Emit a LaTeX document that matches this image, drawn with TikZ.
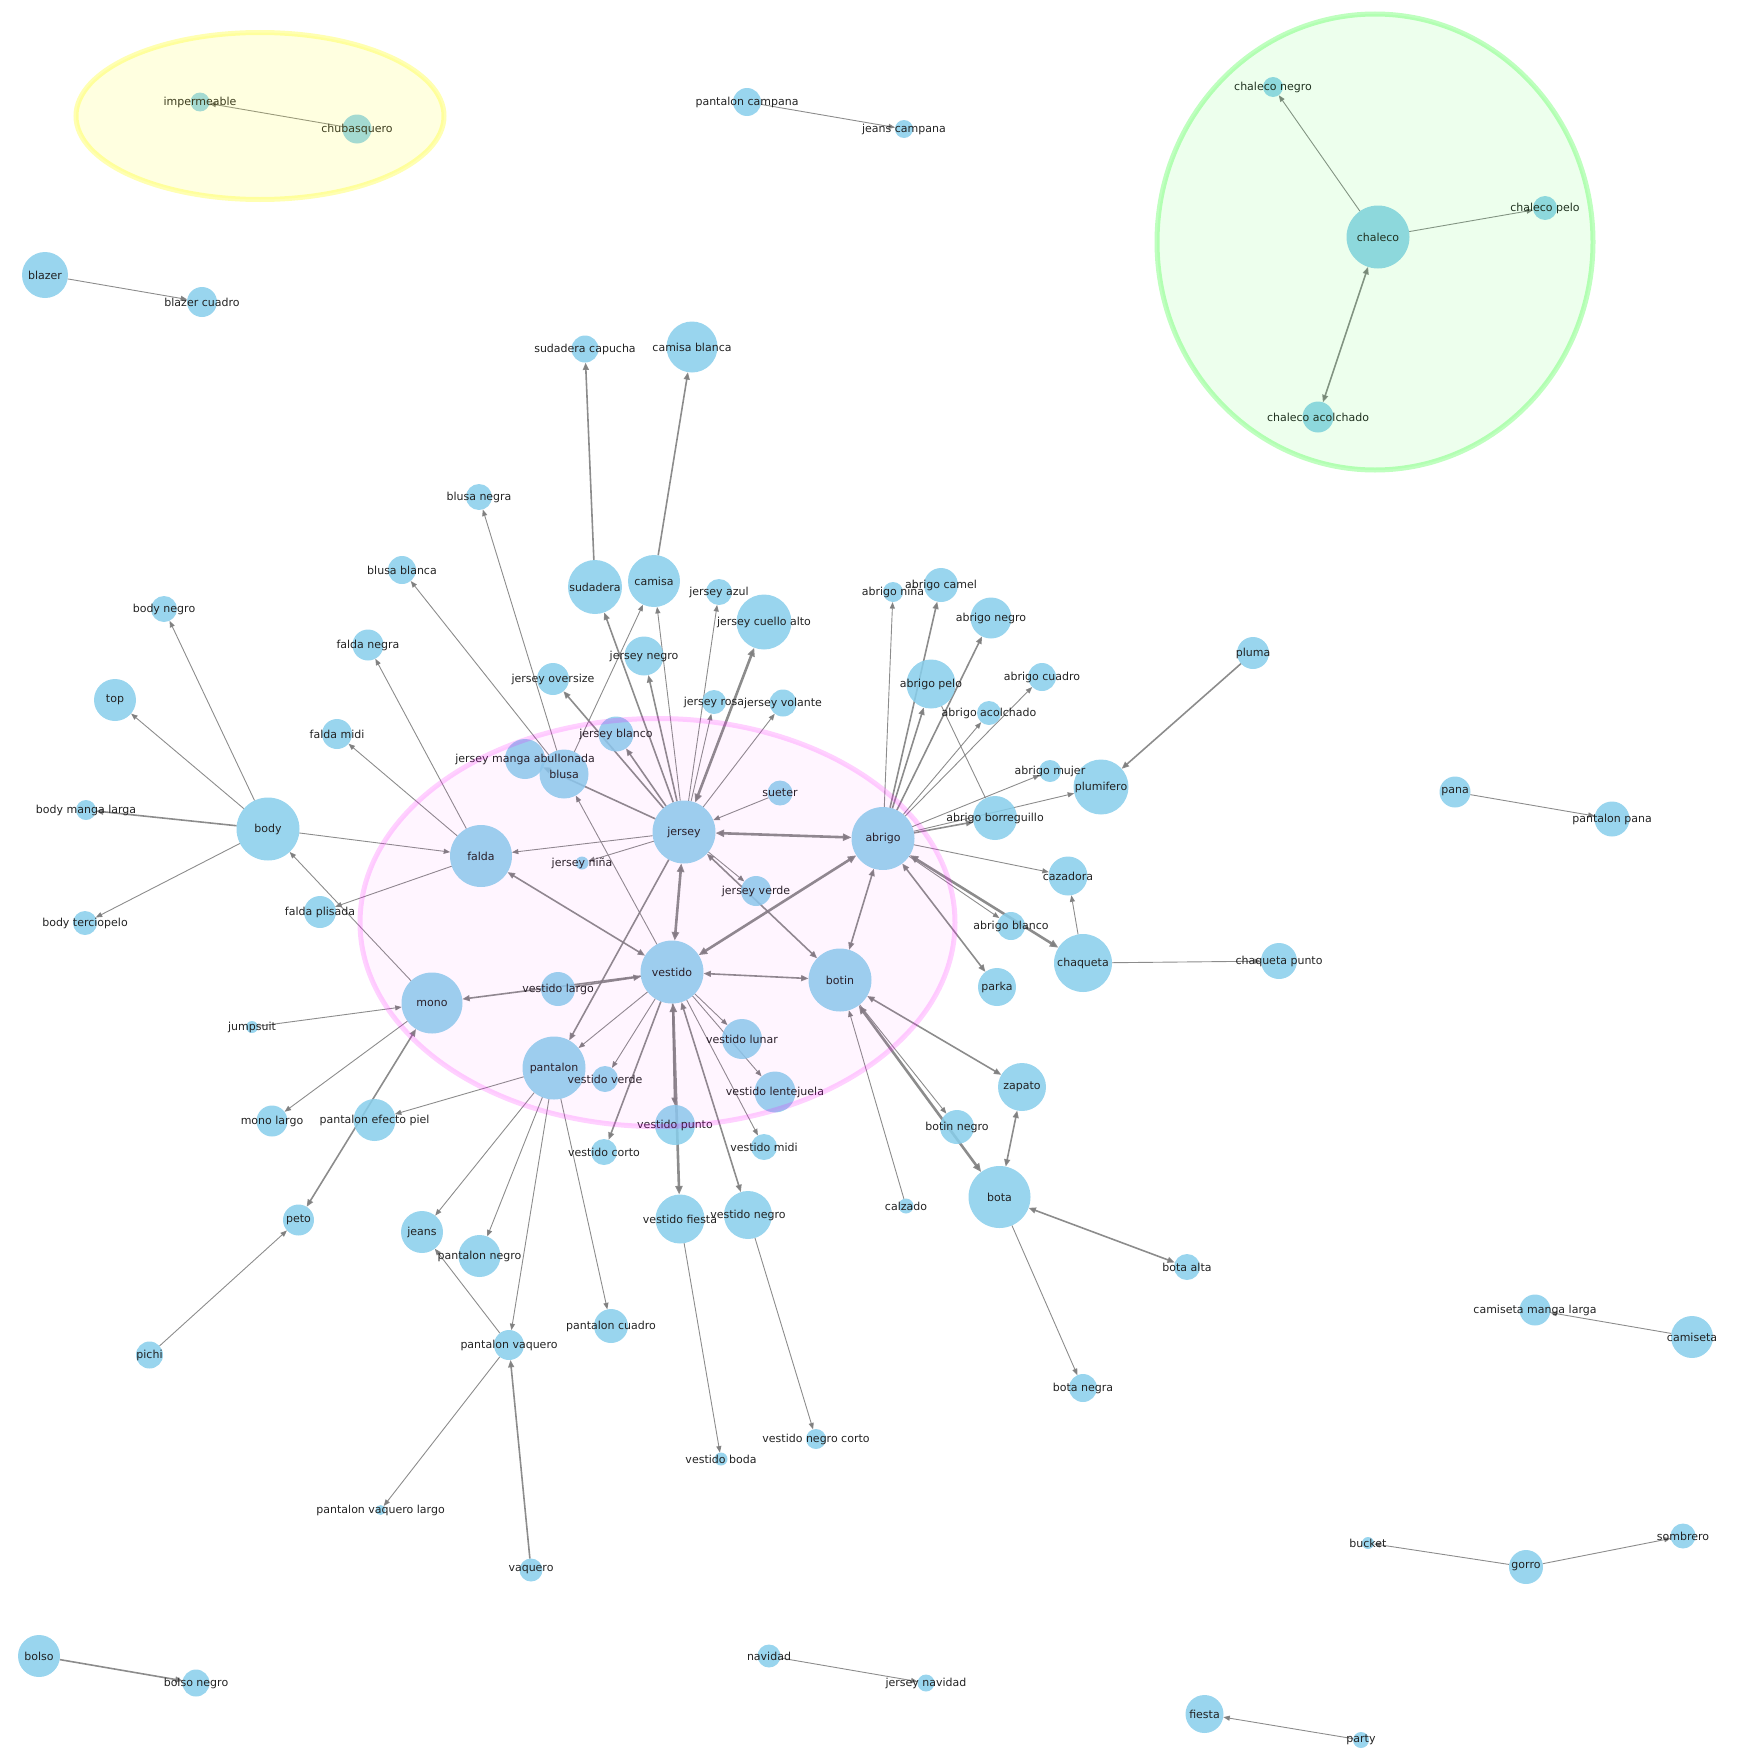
\documentclass[tikz,border=0pt]{standalone}
\usepackage{fontspec}
\setmainfont{DejaVu Sans}
\usetikzlibrary{arrows.meta}
\definecolor{nodeblue}{RGB}{135,206,235}
\definecolor{labelc}{RGB}{34,34,34}
\definecolor{edgec}{RGB}{128,128,128}
\definecolor{pinkc}{RGB}{255,0,255}
\definecolor{yellowc}{RGB}{255,255,0}
\definecolor{greenc}{RGB}{0,255,0}
\pgfdeclarelayer{edges}
\pgfdeclarelayer{lbls}
\pgfdeclarelayer{hull}
\pgfsetlayers{edges,main,lbls,hull}
\newcommand\gnode[5]{%
  \node[nd,minimum size=#4*2pt] (#1) at (#2,#3) {};
  \begin{pgfonlayer}{lbls}\node[lb] at (#2,#3) {#5};\end{pgfonlayer}}
\tikzset{
  nd/.style={circle,fill=nodeblue,fill opacity=0.85,draw=none,inner sep=0pt,outer sep=0pt},
  lb/.style={text=labelc,inner sep=0pt,font=\fontsize{11}{13}\selectfont},
  ar/.style={-{Triangle[length=5.5pt 1.2,width=4pt 1.2]}},
  bi/.style={{Triangle[length=5.5pt 1.2,width=4pt 1.2]}-{Triangle[length=5.5pt 1.2,width=4pt 1.2]}},
  ea/.style={draw=edgec,draw opacity=0.9,line width=0.9pt},
  eb/.style={draw=edgec,draw opacity=0.9,line width=1.6pt},
  ec/.style={draw=edgec,draw opacity=0.9,line width=2.6pt},
  hullpink/.style={draw=pinkc,draw opacity=0.18,line width=5pt,fill=pinkc,fill opacity=0.04},
  hullyellow/.style={draw=yellowc,draw opacity=0.3,line width=5pt,fill=yellowc,fill opacity=0.12},
  hullgreen/.style={draw=greenc,draw opacity=0.25,line width=5pt,fill=greenc,fill opacity=0.07},
}
\begin{document}
\begin{tikzpicture}[x=1pt,y=-1pt]
\useasboundingbox (0,0) rectangle (1737,1761);
% ---- central nodes
\gnode{jersey}{684}{832}{31.5}{jersey}
\gnode{abrigo}{883}{838.5}{31.5}{abrigo}
\gnode{falda}{481}{856}{31}{falda}
\gnode{vestido}{672}{972}{31.5}{vestido}
\gnode{botin}{840}{980}{31.5}{botin}
\gnode{mono}{432}{1003}{30.5}{mono}
\gnode{pantalon}{554}{1068}{31.5}{pantalon}
\gnode{body}{268}{829}{31.5}{body}
\gnode{bota}{999.5}{1197}{31}{bota}
\gnode{chaleco}{1378}{237}{31.5}{chaleco}
% ---- jersey group
\gnode{blusa}{564}{774}{24.5}{blusa}
\gnode{jma}{525}{759}{20}{jersey manga abullonada}
\gnode{jbl}{616}{734}{17.5}{jersey blanco}
\gnode{jov}{553}{679}{16}{jersey oversize}
\gnode{jne}{644}{656}{19.5}{jersey negro}
\gnode{jro}{714}{702}{12}{jersey rosa}
\gnode{jvo}{783}{703}{13.5}{jersey volante}
\gnode{jca}{764}{622}{27.5}{jersey cuello alto}
\gnode{jaz}{719}{592}{13}{jersey azul}
\gnode{sud}{595}{587}{27}{sudadera}
\gnode{cam}{654}{581}{26}{camisa}
\gnode{sueter}{780}{793}{12.5}{sueter}
\gnode{jni}{582}{863}{6.5}{jersey niña}
\gnode{jve}{756}{891}{15}{jersey verde}
\gnode{bne}{479}{497}{13}{blusa negra}
\gnode{bbl}{402}{570}{14}{blusa blanca}
\gnode{sca}{585}{349}{13.5}{sudadera capucha}
\gnode{cbl}{692}{347}{25.5}{camisa blanca}
% ---- abrigo group
\gnode{ani}{893}{592}{10}{abrigo niña}
\gnode{acm}{941}{585}{17}{abrigo camel}
\gnode{ang}{991}{618}{20.5}{abrigo negro}
\gnode{ape}{931}{684}{24.5}{abrigo pelo}
\gnode{acu}{1042}{677}{14}{abrigo cuadro}
\gnode{aac}{989}{713}{12}{abrigo acolchado}
\gnode{amu}{1050}{771}{11}{abrigo mujer}
\gnode{plu}{1101}{787}{27.5}{plumifero}
\gnode{abo}{995}{818}{22}{abrigo borreguillo}
\gnode{caz}{1068}{876}{19.5}{cazadora}
\gnode{abl}{1011}{926}{14}{abrigo blanco}
\gnode{chq}{1083}{963}{29}{chaqueta}
\gnode{parka}{997}{987}{19}{parka}
\gnode{pluma}{1253}{653}{16}{pluma}
\gnode{chp}{1279}{961}{18}{chaqueta punto}
% ---- vestido group
\gnode{vla}{558}{989}{17}{vestido largo}
\gnode{vve}{605}{1079}{13}{vestido verde}
\gnode{vlu}{742}{1039}{20}{vestido lunar}
\gnode{vle}{775}{1092}{20.5}{vestido lentejuela}
\gnode{vpu}{675}{1125}{20}{vestido punto}
\gnode{vco}{604}{1152}{13}{vestido corto}
\gnode{vmi}{764}{1147}{13}{vestido midi}
\gnode{vfi}{680}{1219}{24.5}{vestido fiesta}
\gnode{vng}{748}{1215}{24}{vestido negro}
\gnode{vbo}{721}{1459}{6.5}{vestido boda}
\gnode{vnc}{816}{1439}{10}{vestido negro corto}
% ---- botin / bota group
\gnode{zapato}{1022}{1087}{24}{zapato}
\gnode{bng}{957}{1127}{17}{botin negro}
\gnode{calzado}{906}{1206}{7.5}{calzado}
\gnode{btn}{1083}{1388}{14}{bota negra}
\gnode{bta}{1187}{1267}{13}{bota alta}
% ---- body / falda / mono / pantalon group
\gnode{bdn}{164}{609}{13}{body negro}
\gnode{fng}{368}{645}{15.5}{falda negra}
\gnode{top}{115}{700}{21}{top}
\gnode{fmi}{337}{734}{15}{falda midi}
\gnode{bml}{86}{810}{10}{body manga larga}
\gnode{btc}{85}{923}{12}{body terciopelo}
\gnode{fpl}{320}{912}{16}{falda plisada}
\gnode{jumpsuit}{252}{1027}{6}{jumpsuit}
\gnode{mla}{272}{1121}{15.5}{mono largo}
\gnode{pep}{374.6}{1120}{21}{pantalon efecto piel}
\gnode{peto}{298.5}{1220}{15.5}{peto}
\gnode{jeans}{422}{1232}{21}{jeans}
\gnode{png}{479.5}{1256}{21}{pantalon negro}
\gnode{pichi}{149.5}{1355}{13.5}{pichi}
\gnode{pva}{509}{1345}{15}{pantalon vaquero}
\gnode{pcu}{611}{1326}{17}{pantalon cuadro}
\gnode{pvl}{380.6}{1510}{5}{pantalon vaquero largo}
\gnode{vaquero}{531}{1570}{11.5}{vaquero}
% ---- small groups
\gnode{imp}{200}{102}{9.5}{impermeable}
\gnode{chu}{357}{129}{14.5}{chubasquero}
\gnode{blazer}{45}{275}{23}{blazer}
\gnode{bzc}{202}{302}{15}{blazer cuadro}
\gnode{pca}{747}{102}{14}{pantalon campana}
\gnode{jcam}{904}{129}{9}{jeans campana}
\gnode{cng}{1273}{87}{10}{chaleco negro}
\gnode{cpe}{1545}{208}{12}{chaleco pelo}
\gnode{cac}{1318}{417}{15.5}{chaleco acolchado}
\gnode{pana}{1455}{792}{15.5}{pana}
\gnode{ppa}{1612}{819}{17.5}{pantalon pana}
\gnode{cml}{1535}{1310}{15.5}{camiseta manga larga}
\gnode{cmt}{1692}{1337}{21}{camiseta}
\gnode{gorro}{1526}{1567}{17}{gorro}
\gnode{bucket}{1368}{1543}{6}{bucket}
\gnode{som}{1683}{1536}{12.5}{sombrero}
\gnode{bolso}{39}{1656}{21}{bolso}
\gnode{bon}{196}{1683}{13.5}{bolso negro}
\gnode{nav}{769}{1656}{11.5}{navidad}
\gnode{jna}{926}{1683}{8.5}{jersey navidad}
\gnode{fiesta}{1204.5}{1714}{19}{fiesta}
\gnode{party}{1361}{1740}{8}{party}
% ---- edges
\begin{pgfonlayer}{edges}
\draw[eb,ar] (jersey) -- (sud);
\draw[ea,ar] (jersey) -- (cam);
\draw[ea,ar] (jersey) -- (jaz);
\draw[ec,bi] (jersey) -- (jca);
\draw[eb,ar] (jersey) -- (jne);
\draw[eb,ar] (jersey) -- (jov);
\draw[ea,ar] (jersey) -- (jro);
\draw[ea,ar] (jersey) -- (jvo);
\draw[eb,ar] (jersey) -- (jbl);
\draw[eb,ar] (jersey) -- (jma);
\draw[ea,ar] (blusa) -- (cam);
\draw[ea,ar] (blusa) -- (bne);
\draw[ea,ar] (blusa) -- (bbl);
\draw[ea,ar] (jersey) -- (falda);
\draw[ea,ar] (jersey) -- (jni);
\draw[ea,ar] (sueter) -- (jersey);
\draw[ec,bi] (jersey) -- (abrigo);
\draw[ec,bi] (jersey) -- (vestido);
\draw[ea,ar] (jersey) -- (jve);
\draw[eb,bi] (jersey) -- (botin);
\draw[eb,ar] (jersey) -- (pantalon);
\draw[ea,ar] (vestido) -- (blusa);
\draw[eb,ar] (sud) -- (sca);
\draw[eb,ar] (cam) -- (cbl);
\draw[eb,bi] (falda) -- (vestido);
\draw[ec,bi] (vestido) -- (abrigo);
\draw[eb,bi] (vestido) -- (botin);
\draw[eb,ar] (vestido) -- (mono);
\draw[eb,ar] (vla) -- (vestido);
\draw[ea,ar] (vestido) -- (pantalon);
\draw[ea,ar] (vestido) -- (vve);
\draw[eb,ar] (vestido) -- (vco);
\draw[eb,ar] (vestido) -- (vpu);
\draw[ec,bi] (vestido) -- (vfi);
\draw[eb,bi] (vestido) -- (vng);
\draw[ea,ar] (vestido) -- (vlu);
\draw[ea,ar] (vestido) -- (vle);
\draw[ea,ar] (vestido) -- (vmi);
\draw[ea,ar] (vfi) -- (vbo);
\draw[ea,ar] (vng) -- (vnc);
\draw[ea,ar] (abrigo) -- (ani);
\draw[eb,ar] (abrigo) -- (acm);
\draw[eb,ar] (abrigo) -- (ape);
\draw[eb,ar] (abrigo) -- (ang);
\draw[ea,ar] (abrigo) -- (acu);
\draw[ea,ar] (abrigo) -- (aac);
\draw[ea,ar] (abrigo) -- (amu);
\draw[ea,ar] (abrigo) -- (plu);
\draw[eb,ar] (abrigo) -- (abo);
\draw[ea] (abo) -- (ape);
\draw[ea,ar] (abrigo) -- (caz);
\draw[ea,ar] (abrigo) -- (abl);
\draw[ec,bi] (abrigo) -- (chq);
\draw[eb,bi] (abrigo) -- (parka);
\draw[eb,bi] (abrigo) -- (botin);
\draw[ea,ar] (chq) -- (caz);
\draw[ea,ar] (chq) -- (chp);
\draw[eb,ar] (pluma) -- (plu);
\draw[eb,bi] (botin) -- (zapato);
\draw[ea,ar] (botin) -- (bng);
\draw[ec,bi] (botin) -- (bota);
\draw[ea,ar] (calzado) -- (botin);
\draw[eb,bi] (bota) -- (zapato);
\draw[eb,bi] (bota) -- (bta);
\draw[ea,ar] (bota) -- (btn);
\draw[ea,ar] (body) -- (bdn);
\draw[ea,ar] (body) -- (top);
\draw[eb,ar] (body) -- (bml);
\draw[ea,ar] (body) -- (falda);
\draw[ea,ar] (body) -- (btc);
\draw[ea,ar] (mono) -- (body);
\draw[ea,ar] (falda) -- (fng);
\draw[ea,ar] (falda) -- (fmi);
\draw[ea,ar] (falda) -- (fpl);
\draw[ea,ar] (jumpsuit) -- (mono);
\draw[ea,ar] (mono) -- (mla);
\draw[eb,bi] (mono) -- (peto);
\draw[ea,ar] (pantalon) -- (pep);
\draw[ea,ar] (pichi) -- (peto);
\draw[ea,ar] (pantalon) -- (jeans);
\draw[ea,ar] (pantalon) -- (png);
\draw[ea,ar] (pantalon) -- (pva);
\draw[ea,ar] (pantalon) -- (pcu);
\draw[ea,ar] (pva) -- (jeans);
\draw[ea,ar] (pva) -- (pvl);
\draw[eb,ar] (vaquero) -- (pva);
\draw[ea,ar] (chu) -- (imp);
\draw[ea,ar] (blazer) -- (bzc);
\draw[ea,ar] (pca) -- (jcam);
\draw[ea,ar] (chaleco) -- (cng);
\draw[ea,ar] (chaleco) -- (cpe);
\draw[eb,bi] (chaleco) -- (cac);
\draw[ea,ar] (pana) -- (ppa);
\draw[ea,ar] (cmt) -- (cml);
\draw[ea,ar] (gorro) -- (bucket);
\draw[ea,ar] (gorro) -- (som);
\draw[eb,ar] (bolso) -- (bon);
\draw[ea,ar] (nav) -- (jna);
\draw[ea,ar] (party) -- (fiesta);
\end{pgfonlayer}
% ---- hulls
\begin{pgfonlayer}{hull}
\path[hullpink] (657.5,922.5) ellipse [x radius=297.5, y radius=204];
\path[hullyellow] (260,116) ellipse [x radius=184, y radius=83.5];
\path[hullgreen] (1375,242) ellipse [x radius=218, y radius=228];
\end{pgfonlayer}
\end{tikzpicture}
\end{document}
